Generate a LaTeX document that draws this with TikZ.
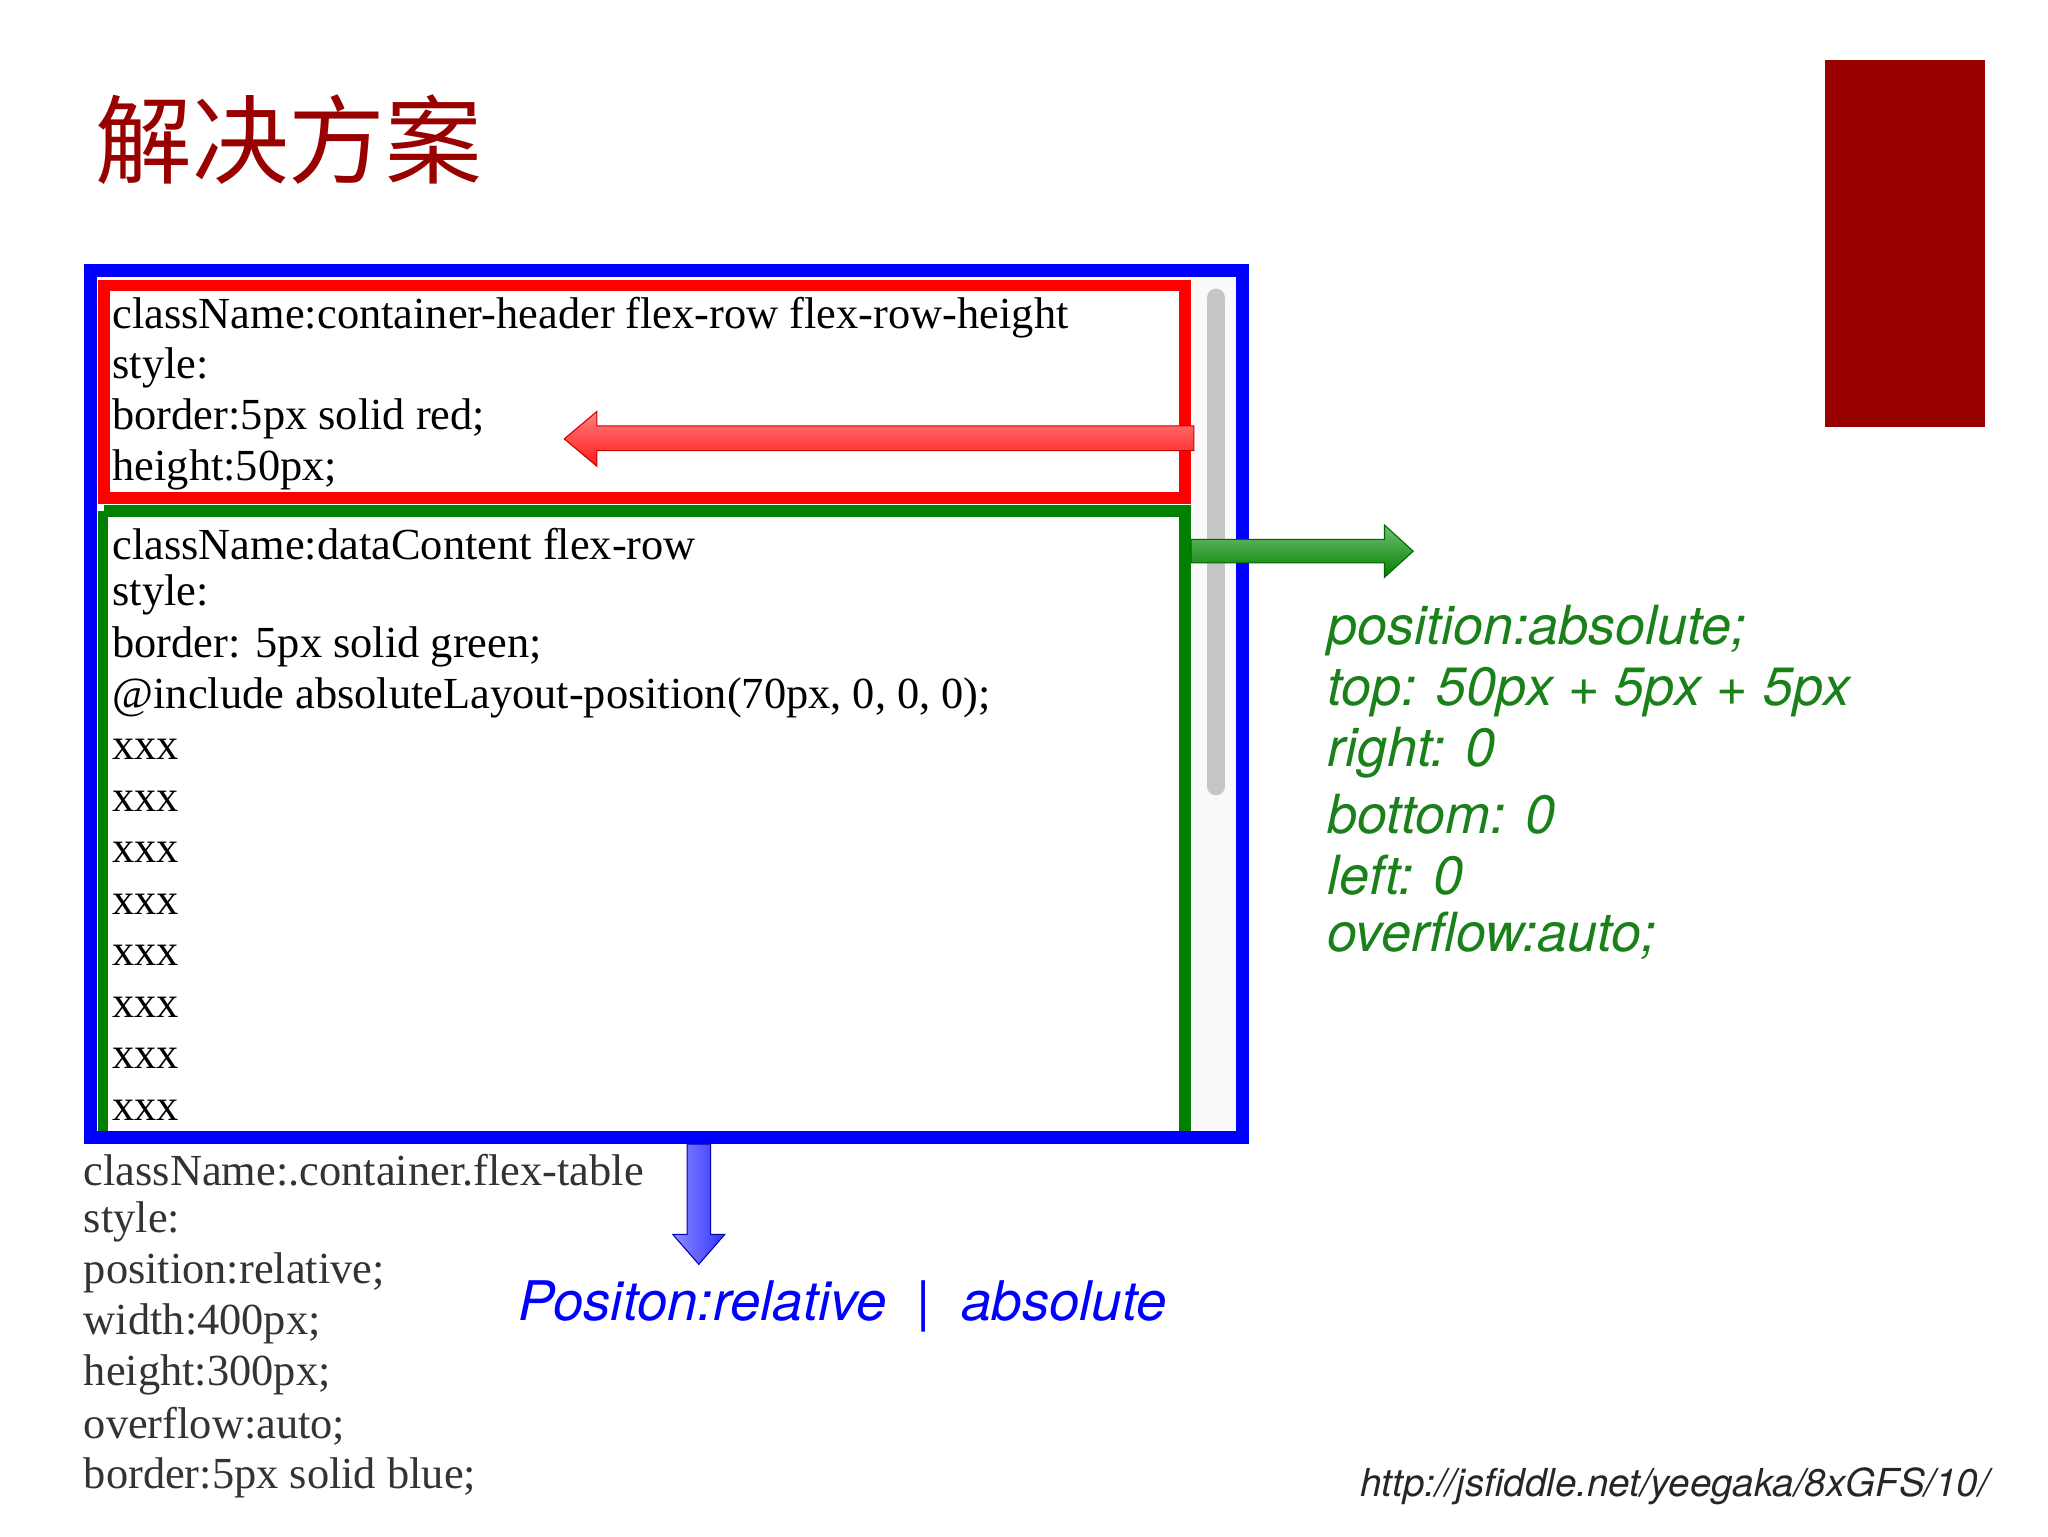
\documentclass[tikz,border=0pt]{standalone}
\usepackage{fontspec}
\setmainfont{Liberation Serif}
\newfontfamily\cjk{Noto Sans CJK SC}
\newfontfamily\goth{TeX Gyre Heros}
\definecolor{dred}{HTML}{990000}
\definecolor{cgreen}{HTML}{1A8019}
\definecolor{tgray}{HTML}{333333}
\tikzset{
 code/.style={anchor=west,inner sep=0pt,font=\fontsize{34}{34}\selectfont,text=black},
 gtxt/.style={anchor=west,inner sep=0pt,font=\goth\itshape\fontsize{41.3}{41.3}\selectfont,text=cgreen},
}
\begin{document}
\begin{tikzpicture}[x=1pt,y=-1pt]
\useasboundingbox[fill=white] (0,0) rectangle (1568,1176);
\node[anchor=west,inner sep=0pt,text=dred,font=\cjk\fontsize{74}{74}\selectfont] (title) at (73,107) {解决方案};
\fill[dred] (1397,46) rectangle (1520,327);
% scrollbar
\fill[gray!5] (913,212) rectangle (946,866);
\draw[line width=14pt,line cap=round,gray!45] (931,228) -- (931,602);
% boxes
\draw[red,line width=9pt] (79.5,218.5) rectangle (907.5,381.5);
\draw[green!50!black,line width=9pt] (79.5,391.5) -- (907.5,391.5) -- (907.5,870);
\draw[green!50!black,line width=8pt] (79,391.5) -- (79,870);
\draw[blue,line width=10pt] (69,207) rectangle (951,871);
% texts
\foreach \t [count=\i] in {className:container-header flex-row flex-row-height,style:,border:5px solid red;,height:50px;}
  \node[code] (r\i) at (86,204+39*\i) {\t};
\foreach \t [count=\i] in {className:dataContent flex-row,style:,border: 5px solid green;,{@include absoluteLayout-position(70px, 0, 0, 0);},xxx,xxx,xxx,xxx,xxx,xxx,xxx,xxx}
  \node[code] (g\i) at (86,377+39.4*\i) {\t};
\foreach \t [count=\i] in {className:.container.flex-table,style:,position:relative;,width:400px;,height:300px;,overflow:auto;,border:5px solid blue;}
  \node[code,text=tgray] (b\i) at (64,857+39.2*\i) {\t};
% arrows
\draw[red!80!black,line width=0.8pt,top color=red!50,bottom color=red!90] (914,326) -- (457,326) -- (457,315) -- (432,336) -- (457,357) -- (457,345) -- (914,345) -- cycle;
\draw[green!40!black,line width=0.8pt,top color=green!55!black!55,bottom color=green!50!black] (912,413) -- (1060,413) -- (1060,402) -- (1082,422) -- (1060,442) -- (1060,431) -- (912,431) -- cycle;
\draw[blue!70!black,line width=0.8pt,left color=blue!45,right color=blue!80] (526,876) -- (526,945) -- (515,945) -- (535,968) -- (555,945) -- (544,945) -- (544,876) -- cycle;
% green text
\foreach \t [count=\i] in {position:absolute;,top: 50px + 5px + 5px,right: 0,bottom: 0,left: 0,overflow:auto;}
  \node[gtxt] (p\i) at (1016,436+46.8*\i) {\t};
\node[anchor=west,inner sep=0pt,font=\goth\itshape\fontsize{41.8}{41.8}\selectfont,text=blue] (pos) at (397,1000) {Positon:relative \ | \ absolute};
\node[anchor=east,inner sep=0pt,font=\goth\itshape\fontsize{29.5}{29.5}\selectfont,text=black!85] (url) at (1523,1138) {http://jsfiddle.net/yeegaka/8xGFS/10/};
\end{tikzpicture}
\end{document}
